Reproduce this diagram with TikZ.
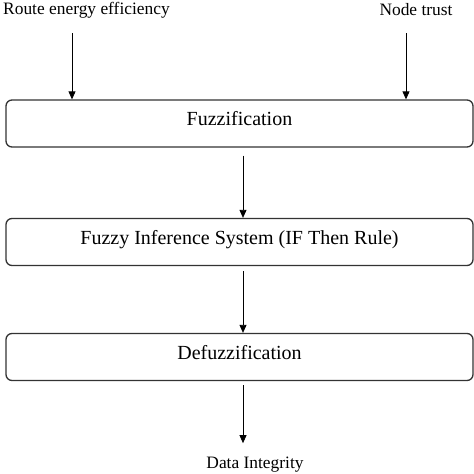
\documentclass[tikz,border=0pt]{standalone}
\usepackage{fontspec}
\setmainfont{Liberation Serif}
\usetikzlibrary{arrows.meta}
\begin{document}
\begin{tikzpicture}[x=1pt,y=-1pt,
  stagebox/.style={draw=black!80,line width=1.3pt,rounded corners=6pt,minimum width=467pt,minimum height=47pt,inner sep=0pt,text height=14pt,text depth=10pt,font=\fontsize{20}{24}\selectfont},
  lbl/.style={inner sep=0pt,font=\fontsize{17.4}{20}\selectfont},
  flow/.style={draw=black,line width=0.8pt,-{Triangle[length=8pt,width=7pt]}}]
\useasboundingbox (0,0) rectangle (474,474);
\node[lbl] (route) at (86.5,10) {Route energy efficiency};
\node[lbl] (trust) at (416,10) {Node trust};
\node[stagebox] (fuzz) at (239.5,123.5) {Fuzzification};
\node[stagebox] (fis) at (239.5,242) {Fuzzy Inference System (IF Then Rule)};
\node[stagebox] (defuzz) at (239.5,357) {Defuzzification};
\node[lbl] (data) at (255,465) {Data Integrity};
\coordinate (r1) at (72,33);
\coordinate (t1) at (406,33);
\draw[flow] (r1) -- (r1 |- fuzz.north);
\draw[flow] (t1) -- (t1 |- fuzz.north);
\draw[flow] ([xshift=3.5pt,yshift=-8pt]fuzz.south) -- ([xshift=3.5pt]fis.north);
\draw[flow] ([xshift=3.5pt,yshift=-5pt]fis.south) -- ([xshift=3.5pt]defuzz.north);
\draw[flow] ([xshift=3.5pt,yshift=-4pt]defuzz.south) -- ([xshift=3.5pt,yshift=-62pt]defuzz.south);
\end{tikzpicture}
\end{document}
